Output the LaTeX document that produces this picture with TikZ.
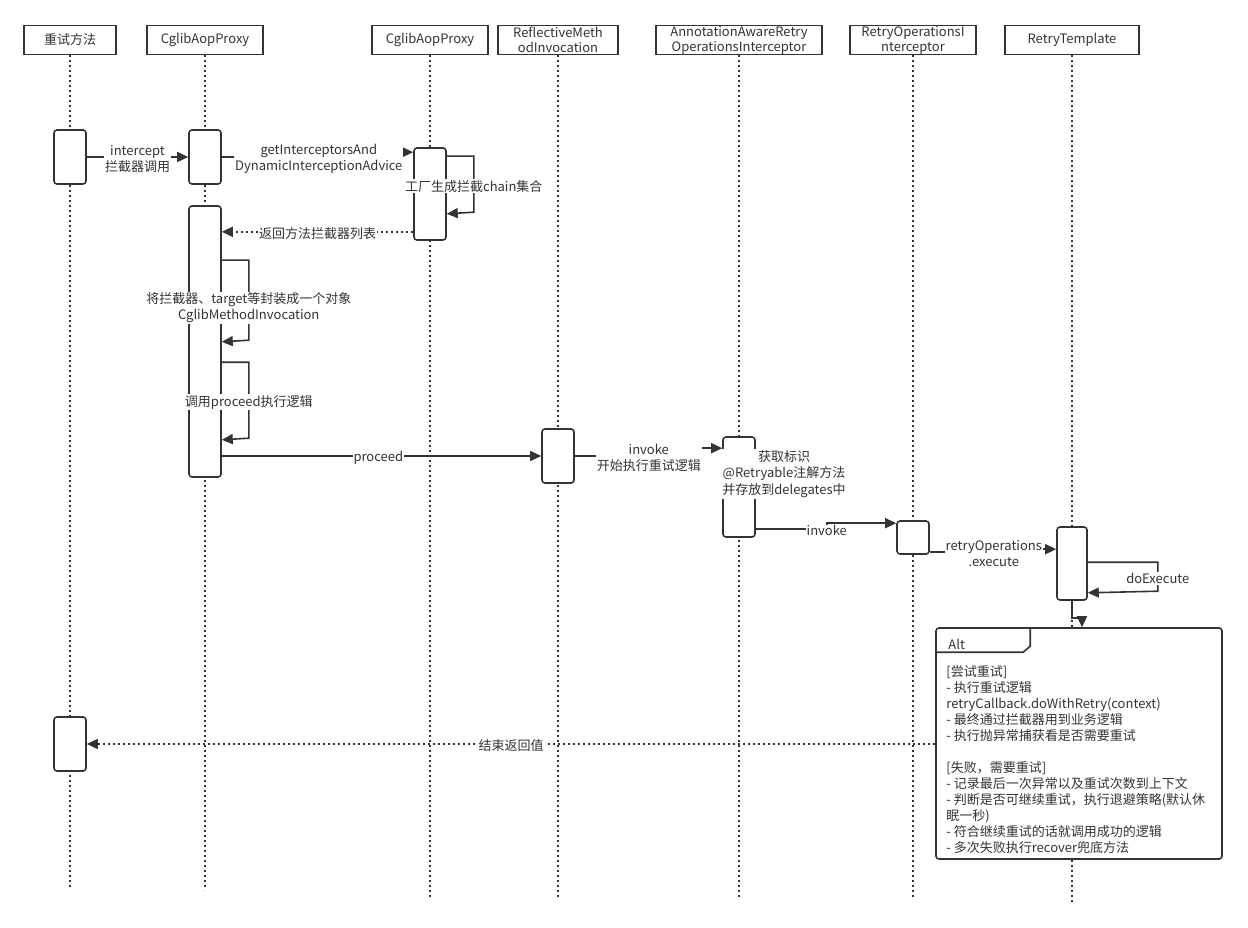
\documentclass[tikz,border=0pt]{standalone}
\usepackage{fontspec}
\setmainfont{Noto Sans CJK SC}
\usetikzlibrary{arrows.meta}
\definecolor{ink}{HTML}{333333}
\begin{document}
\begin{tikzpicture}[x=1pt,y=-1pt,
        head/.style={draw=ink,line width=1.6pt,minimum height=29pt,inner xsep=1pt,inner ysep=-1pt,align=center,text=ink,font=\fontsize{13}{15}\selectfont},
        life/.style={draw=ink,line width=1.8pt,dash pattern=on 2pt off 3pt},
        actbox/.style={draw=ink,line width=1.6pt,fill=white,rounded corners=3pt,minimum width=32pt,inner sep=0pt},
        msg/.style={draw=ink,line width=1.6pt,-{Triangle[length=11pt,width=10pt]}},
        ret/.style={msg,dash pattern=on 2pt off 3pt},
        lbl/.style={fill=white,inner sep=1pt,yshift=-2pt,align=center,text=ink,font=\fontsize{13}{16}\selectfont}]
            \useasboundingbox (0,0) rectangle (1248,928);
            \node[head,minimum width=92pt] (h1) at (70,40) {重试方法};
            \node[head,minimum width=116pt] (h2) at (205,40) {CglibAopProxy};
            \node[head,minimum width=116pt] (h3) at (430,40) {CglibAopProxy};
            \node[head,minimum width=120pt] (h4) at (558,40) {ReflectiveMeth\\odInvocation};
            \node[head,minimum width=166pt] (h5) at (739,40) {AnnotationAwareRetry\\OperationsInterceptor};
            \node[head,minimum width=126pt] (h6) at (913,40) {RetryOperationsI\\nterceptor};
            \node[head,minimum width=134pt] (h7) at (1072,40) {RetryTemplate};
            \draw[life] (h1.south) -- ++(0,833);
            \draw[life] (h2.south) -- ++(0,835);
            \draw[life] (h3.south) -- ++(0,842);
            \draw[life] (h4.south) -- ++(0,842);
            \draw[life] (h5.south) -- ++(0,842);
            \draw[life] (h6.south) -- ++(0,842);
            \draw[life] (h7.south) -- ++(0,848);
            \node[actbox,minimum height=54pt] (A1) at (70,157) {};
            \node[actbox,minimum height=54pt] (B1) at (205,157) {};
            \node[actbox,minimum height=271pt] (B2) at (205,341.5) {};
            \node[actbox,minimum height=92pt] (C1) at (430,194) {};
            \node[actbox,minimum height=54pt] (D1) at (558,456) {};
            \node[actbox,minimum height=100pt] (E1) at (739,487) {};
            \node[lbl,font=\fontsize{13}{16.5}\selectfont] (E1note) at (784,472) {获取标识\\@Retryable注解方法\\并存放到delegates中};
            \node[actbox,minimum height=33pt] (F1) at (913,537.5) {};
            \node[actbox,minimum height=73pt,minimum width=30pt] (G1) at (1072,563.5) {};
            \node[actbox,minimum height=54pt] (A2) at (70,744) {};
            \node[draw=ink,line width=1.6pt,rounded corners=3pt,fill=white,minimum width=286pt,minimum height=231pt] (alt) at (1079,743.5) {};
            \draw[draw=ink,line width=1.6pt] ([xshift=95pt]alt.north west) -- ++(0,19) -- ++(-7,6) -- ([yshift=-25pt]alt.north west);
            \node[lbl,fill=none,anchor=west] (altname) at ([xshift=12pt,yshift=-15pt]alt.north west) {Alt};
            \node[anchor=north west,align=left,inner sep=0pt,text=ink,font=\fontsize{13}{16}\selectfont] (alttext) at ([xshift=11pt,yshift=-38pt]alt.north west) {[尝试重试]\\- 执行重试逻辑\\retryCallback.doWithRetry(context)\\- 最终通过拦截器用到业务逻辑\\- 执行抛异常捕获看是否需要重试\\[16pt][失败，需要重试]\\- 记录最后一次异常以及重试次数到上下文\\- 判断是否可继续重试，执行退避策略(默认休\\眠一秒)\\- 符合继续重试的话就调用成功的逻辑\\- 多次失败执行recover兜底方法};
            \draw[msg] (A1.east) -- (B1.west) node[midway,lbl] {intercept\\拦截器调用};
            \draw[msg] (B1.east) -- ++(97,0) node[lbl] {getInterceptorsAnd\\DynamicInterceptionAdvice} |- ([yshift=-5pt]C1.north west);
            \draw[msg] ([yshift=-9pt]C1.north east) -- ++(27,0) -- ++(0,56) node[midway,lbl] {工厂生成拦截chain集合} -- ([yshift=27pt]C1.south east);
            \coordinate (r1) at ([yshift=9pt]C1.south west);
            \draw[ret] (r1) -- (r1 -| B2.east) node[midway,lbl] {返回方法拦截器列表};
            \draw[msg] ([yshift=-55pt]B2.north east) -- ++(27,0) -- ++(0,80) node[pos=0.57,lbl] {将拦截器、target等封装成一个对象\\CglibMethodInvocation} -- ([yshift=136pt]B2.south east);
            \draw[msg] ([yshift=-157pt]B2.north east) -- ++(27,0) -- ++(0,76) node[midway,lbl] {调用proceed执行逻辑} -- ([yshift=38pt]B2.south east);
            \draw[msg] (B2.east |- D1.west) -- (D1.west) node[pos=0.49,lbl] {proceed};
            \draw[msg] (D1.east) -- ++(74,0) node[lbl] {invoke\\开始执行重试逻辑} |- ([yshift=-12pt]E1.north west);
            \draw[msg] ([yshift=9pt]E1.south east) -- ++(71,0) node[lbl] {invoke} |- ([yshift=-3pt]F1.north west);
            \draw[msg] ([yshift=3pt]F1.south east) -- ++(64,0) node[lbl] {retryOperations\\.execute} |- ([yshift=-23pt]G1.north west);
            \draw[msg] ([yshift=-36pt]G1.north east) -- ++(70,0) -- ++(0,29) node[midway,lbl] {doExecute} -- ([yshift=8pt]G1.south east);
            \draw[msg] (G1.south) -- ++(0,17) -| ([xshift=3pt]alt.north);
            \draw[ret] (A2.east -| alt.west) -- (A2.east) node[midway,lbl] {结束返回值};
        \end{tikzpicture}
\end{document}
